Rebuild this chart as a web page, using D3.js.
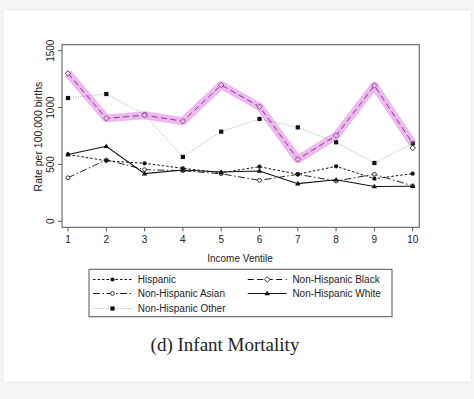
<!DOCTYPE html>
<html>
<head>
<meta charset="utf-8">
<script src="https://cdn.jsdelivr.net/npm/d3@7"></script>
<style>
  html, body { margin: 0; padding: 0; background: #f5f5f5; }
  svg { display: block; }
</style>
</head>
<body>
<svg class="chart" width="474" height="399"></svg>
<script>
const ventiles = [1, 2, 3, 4, 5, 6, 7, 8, 9, 10];
const hispanic = [588, 532, 510, 466, 427, 480, 414, 483, 375, 419];
const nhAsian = [383, 540, 454, 445, 418, 360, 413, 354, 414, 311];
const nhBlack = [1300, 905, 932, 880, 1198, 1008, 545, 753, 1193, 645];
// the dashed line and its highlight end a little above the last diamond
const nhBlackLine = [1300, 905, 932, 880, 1198, 1008, 545, 753, 1193, 684];
const nhWhite = [588, 660, 419, 451, 434, 442, 331, 365, 306, 308];
const nhOther = [1084, 1119, 938, 566, 788, 900, 826, 695, 513, 686];
const yTicks = [0, 500, 1000, 1500];

const svg = d3.select('.chart');

// card
svg.append('rect')
  .attr('x', 3).attr('y', 10).attr('width', 468).attr('height', 372)
  .attr('fill', '#fff').attr('stroke', '#ececec');

const x = d3.scaleLinear().domain([1, 10]).range([68, 412.7]);
const y = d3.scaleLinear().domain([0, 1500]).range([221.3, 50.7]);

const series = [
  { name: 'Hispanic', values: hispanic, line: hispanic, dash: '2.5,2', color: '#111', width: 1, marker: 'circle' },
  { name: 'Non-Hispanic Black', values: nhBlack, line: nhBlackLine, dash: '6,3.5', color: '#111', width: 1, marker: 'diamond' },
  { name: 'Non-Hispanic Asian', values: nhAsian, line: nhAsian, dash: '7,2.5,1.5,2.5', color: '#222', width: 1, marker: 'ocircle' },
  { name: 'Non-Hispanic White', values: nhWhite, line: nhWhite, dash: null, color: '#111', width: 1.1, marker: 'triangle' },
  { name: 'Non-Hispanic Other', values: nhOther, line: nhOther, dash: '1,1.5', color: '#aaa', width: 1, marker: 'square' },
];

function drawMarker(g, type, cx, cy) {
  if (type === 'circle') {
    g.append('circle').attr('cx', cx).attr('cy', cy).attr('r', 2.1).attr('fill', '#111');
  } else if (type === 'ocircle') {
    g.append('circle').attr('cx', cx).attr('cy', cy).attr('r', 1.9)
      .attr('fill', '#fff').attr('stroke', '#222').attr('stroke-width', 0.9);
  } else if (type === 'diamond') {
    g.append('path').attr('d', `M${cx},${cy - 2.8}L${cx + 2.8},${cy}L${cx},${cy + 2.8}L${cx - 2.8},${cy}Z`)
      .attr('fill', '#fff').attr('stroke', '#222').attr('stroke-width', 0.9);
  } else if (type === 'triangle') {
    g.append('path').attr('d', `M${cx},${cy - 2.8}L${cx + 2.7},${cy + 1.8}L${cx - 2.7},${cy + 1.8}Z`)
      .attr('fill', '#111');
  } else if (type === 'square') {
    g.append('rect').attr('x', cx - 2.1).attr('y', cy - 2.1).attr('width', 4.2).attr('height', 4.2)
      .attr('fill', '#111');
  }
}

// plot box
svg.append('rect')
  .attr('x', 62).attr('y', 44.7).attr('width', 357.3).attr('height', 182.6)
  .attr('fill', 'none').attr('stroke', '#555').attr('stroke-width', 1);

// y axis ticks
const yAxis = svg.append('g').attr('class', 'y-axis');
yTicks.forEach((t) => {
  yAxis.append('line').attr('x1', 58).attr('x2', 62).attr('y1', y(t)).attr('y2', y(t))
    .attr('stroke', '#555');
  yAxis.append('text')
    .attr('transform', `translate(53.5, ${y(t)}) rotate(-90)`)
    .attr('text-anchor', 'middle')
    .attr('font-family', 'Liberation Sans, Arial, sans-serif')
    .attr('font-size', 10)
    .attr('fill', '#222')
    .text(t);
});

// x axis ticks
const xAxis = svg.append('g').attr('class', 'x-axis');
ventiles.forEach((v) => {
  xAxis.append('line').attr('x1', x(v)).attr('x2', x(v)).attr('y1', 227.3).attr('y2', 231.3)
    .attr('stroke', '#555');
  xAxis.append('text')
    .attr('x', x(v)).attr('y', 242.5)
    .attr('text-anchor', 'middle')
    .attr('font-family', 'Liberation Sans, Arial, sans-serif')
    .attr('font-size', 10)
    .attr('fill', '#222')
    .text(v);
});

svg.append('text')
  .attr('x', 240).attr('y', 261.5)
  .attr('text-anchor', 'middle')
  .attr('font-family', 'Liberation Sans, Arial, sans-serif')
  .attr('font-size', 10)
  .attr('fill', '#222')
  .text('Income Ventile');

svg.append('text')
  .attr('transform', 'translate(41.5, 136.5) rotate(-90)')
  .attr('text-anchor', 'middle')
  .attr('font-family', 'Liberation Sans, Arial, sans-serif')
  .attr('font-size', 10.5)
  .attr('fill', '#222')
  .text('Rate per 100,000 births');

// series lines
const line = d3.line().x((d, i) => x(ventiles[i])).y(d => y(d));
const drawOrder = [4, 2, 0, 3, 1];
drawOrder.forEach((k) => {
  const s = series[k];
  svg.append('path')
    .datum(s.line)
    .attr('fill', 'none')
    .attr('stroke', s.color)
    .attr('stroke-width', s.width)
    .attr('stroke-dasharray', s.dash)
    .attr('d', line);
});
drawOrder.forEach((k) => {
  const s = series[k];
  const g = svg.append('g');
  s.values.forEach((v, i) => drawMarker(g, s.marker, x(ventiles[i]), y(v)));
});

// highlight on the Black series
svg.append('path')
  .datum(nhBlackLine)
  .attr('fill', 'none')
  .attr('stroke', '#e070e0')
  .attr('stroke-opacity', 0.5)
  .attr('stroke-width', 8)
  .attr('stroke-linejoin', 'round')
  .attr('d', line);

// legend
const legend = svg.append('g').attr('class', 'legend');
legend.append('rect')
  .attr('x', 89).attr('y', 269.3).attr('width', 303).attr('height', 47.4)
  .attr('fill', '#fff').attr('stroke', '#555').attr('stroke-width', 1);
const legendPos = [
  { s: 0, x: 93, y: 279.5 },
  { s: 1, x: 247.7, y: 279.5 },
  { s: 2, x: 93, y: 293.5 },
  { s: 3, x: 247.7, y: 293.5 },
  { s: 4, x: 93, y: 308.5 },
];
legendPos.forEach((p) => {
  const s = series[p.s];
  legend.append('line')
    .attr('x1', p.x).attr('x2', p.x + 39).attr('y1', p.y).attr('y2', p.y)
    .attr('stroke', s.color).attr('stroke-width', s.width)
    .attr('stroke-dasharray', s.dash);
  drawMarker(legend, s.marker, p.x + 19.5, p.y);
  legend.append('text')
    .attr('x', p.x + 44.7).attr('y', p.y + 3.6)
    .attr('font-family', 'Liberation Sans, Arial, sans-serif')
    .attr('font-size', 10)
    .attr('fill', '#222')
    .text(s.name);
});

// caption
svg.append('text')
  .attr('x', 225).attr('y', 351)
  .attr('text-anchor', 'middle')
  .attr('font-family', 'Liberation Serif, Times New Roman, serif')
  .attr('font-size', 19)
  .attr('fill', '#222')
  .text('(d) Infant Mortality');
</script>
</body>
</html>
